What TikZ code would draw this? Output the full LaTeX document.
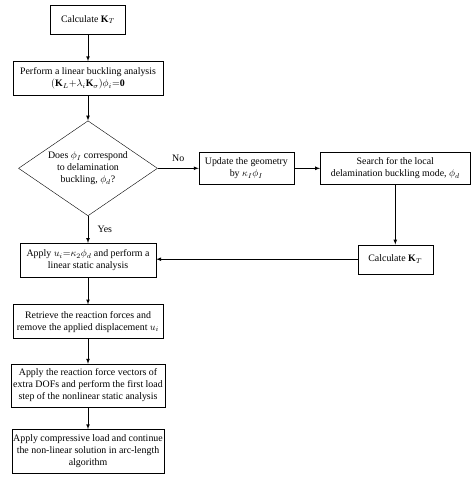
\documentclass[tikz,border=0pt]{standalone}
\usepackage{fontspec}
\setmainfont{Liberation Serif}
\usetikzlibrary{positioning, shapes.geometric}

\begin{document}
\begin{tikzpicture}[font=\fontsize{9.9}{12}\selectfont, >=latex, x=1pt, y=1pt]
\tikzstyle{box}=[%
minimum height=34pt,
draw, fill=white, align=center, inner xsep=1.5pt, inner ysep=3pt
]
\tikzstyle{decision}=[diamond, draw, fill=white, align=center, aspect=1.46,
inner sep=0pt, minimum width=139pt, minimum height=95pt]
\tikzstyle{flow}=[->, line width=0.7pt]
\useasboundingbox (0,0) rectangle (474,-477);
   \node[box, minimum width=75pt, minimum height=29pt] (calc) at (88,-19.5) {Calculate $\mathbf{K}_T$};
   \node[box, below = 27pt of calc, minimum width=150pt] (perform) {Perform a linear buckling analysis\\ $(\mathbf{K}_L{+}\lambda_i\mathbf{K}_\sigma)\phi_i{=}\mathbf{0}$};
   \node[decision, below = 25pt of perform] (check) {Does $\phi_I$ correspond\\ to delamination\\ buckling, $\phi_d$?};
   \node[box, below = 27pt of check, minimum width=136pt] (apply) {Apply $u_i{=}\kappa_2\phi_d$ and perform a\\ linear static analysis};
   \node[box, below = 27pt of apply, minimum width=150pt] (retrieve) {Retrieve the reaction forces and\\ remove the applied displacement $u_i$};
   \node[box, below = 25pt of retrieve, minimum width=154pt, minimum height=43pt] (reaction) {Apply the reaction force vectors of\\ extra DOFs and perform the first load\\ step of the nonlinear static analysis};
   \node[box, below = 22pt of reaction, minimum width=152pt, minimum height=44pt] (load) {Apply compressive load and continue\\ the non-linear solution in arc-length\\ algorithm};
   \node[box, right = 41pt of check, minimum width=95pt, minimum height=32pt] (update) {Update the geometry\\ by $\kappa_I\phi_I$};
   \node[box, right = 26pt of update, minimum width=150pt, minimum height=32pt] (search) {Search for the local\\ delamination buckling mode, $\phi_d$};
   \node[box, below = 60pt of search, minimum width=75pt, minimum height=29pt] (calc2) {Calculate $\mathbf{K}_T$};
   % connectors
   \draw[flow] (calc) -- (perform);
   \draw[flow] (perform) -- (check);
   \draw[flow] (check) -- node[right=6pt] {Yes} (apply);
   \draw[flow] (check) -- node[above=3pt] {No} (update);
   \draw[flow] (update) -- (search);
   \draw[flow] (search) -- (calc2);
   \draw[flow] (calc2.west) -- (calc2.west -| apply.east);
   \draw[flow] (apply) -- (retrieve);
   \draw[flow] (retrieve) -- (reaction);
   \draw[flow] (reaction) -- (load);
\end{tikzpicture}
\end{document}
